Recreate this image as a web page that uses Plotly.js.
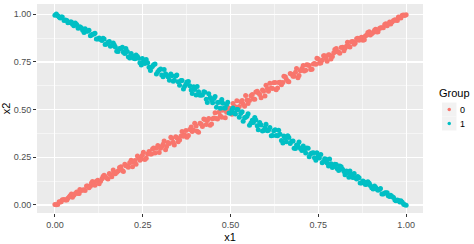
<!DOCTYPE html>
<html><head><meta charset="utf-8">
<script src="https://cdn.plot.ly/plotly-3.0.1.min.js"></script>
<style>html,body{margin:0;padding:0;background:#fff}#chart{width:474px;height:244px}</style>
</head><body><div id="chart"></div>
<script>
const groupNames = ["0", "1"];
const legendTitle = "Group";
const tickVals = [0, 0.25, 0.5, 0.75, 1];
const tickText = ["0.00", "0.25", "0.50", "0.75", "1.00"];

// sample A
const xsA = [0.000,0.008,0.015,0.021,0.030,0.037,0.044,0.050,0.058,0.066,0.071,0.079,0.086,0.093,0.101,0.107,0.114,0.122,0.130,0.137,0.143,0.151,0.158,0.166,0.172,0.180,0.188,0.195,0.202,0.209,0.217,0.224,0.231,0.238,0.246,0.252,0.260,0.268,0.275,0.281,0.289,0.297,0.304,0.311,0.318,0.326,0.333,0.340,0.347,0.355,0.362,0.369,0.376,0.384,0.391,0.398,0.405,0.413,0.420,0.427,0.434,0.442,0.449,0.456,0.463,0.471,0.478,0.485,0.492,0.500,0.507,0.514,0.521,0.529,0.536,0.543,0.550,0.558,0.565,0.572,0.579,0.587,0.594,0.601,0.608,0.616,0.623,0.630,0.637,0.645,0.652,0.659,0.666,0.674,0.681,0.688,0.695,0.703,0.710,0.717,0.724,0.732,0.739,0.746,0.753,0.761,0.768,0.775,0.782,0.790,0.797,0.804,0.811,0.819,0.826,0.833,0.840,0.848,0.855,0.862,0.869,0.877,0.884,0.891,0.898,0.906,0.913,0.920,0.927,0.935,0.942,0.949,0.956,0.964,0.971,0.978,0.985,0.993,1.000];

const x2Group0A = [0.002,0.002,0.016,0.028,0.026,0.036,0.050,0.040,0.060,0.060,0.081,0.079,0.076,0.099,0.098,0.123,0.104,0.130,0.125,0.150,0.149,0.136,0.160,0.184,0.164,0.178,0.201,0.176,0.206,0.198,0.235,0.224,0.214,0.248,0.241,0.277,0.245,0.281,0.267,0.299,0.297,0.275,0.307,0.336,0.307,0.323,0.350,0.314,0.353,0.341,0.385,0.369,0.355,0.396,0.385,0.428,0.387,0.428,0.411,0.448,0.443,0.418,0.452,0.484,0.451,0.468,0.497,0.457,0.498,0.485,0.532,0.514,0.499,0.541,0.530,0.574,0.532,0.573,0.556,0.593,0.588,0.563,0.597,0.628,0.596,0.613,0.641,0.604,0.643,0.631,0.675,0.659,0.646,0.685,0.675,0.716,0.679,0.716,0.702,0.735,0.732,0.712,0.742,0.769,0.743,0.759,0.782,0.754,0.787,0.779,0.815,0.804,0.796,0.827,0.822,0.853,0.828,0.858,0.849,0.874,0.874,0.864,0.886,0.905,0.892,0.905,0.921,0.908,0.930,0.929,0.951,0.949,0.949,0.968,0.969,0.986,0.980,0.996,0.998];

const x2Group1A = [0.995,0.993,0.981,0.986,0.970,0.956,0.960,0.948,0.954,0.927,0.935,0.917,0.924,0.911,0.887,0.895,0.901,0.871,0.868,0.874,0.841,0.853,0.832,0.850,0.828,0.805,0.821,0.801,0.820,0.778,0.795,0.769,0.786,0.769,0.734,0.750,0.763,0.722,0.722,0.735,0.687,0.708,0.682,0.711,0.682,0.654,0.678,0.654,0.682,0.628,0.653,0.622,0.645,0.625,0.585,0.605,0.622,0.575,0.577,0.591,0.538,0.564,0.536,0.569,0.537,0.507,0.534,0.509,0.539,0.481,0.509,0.477,0.501,0.480,0.439,0.460,0.478,0.430,0.432,0.446,0.394,0.419,0.391,0.423,0.392,0.363,0.389,0.364,0.392,0.338,0.362,0.332,0.354,0.334,0.297,0.315,0.330,0.286,0.287,0.299,0.253,0.273,0.248,0.274,0.247,0.222,0.242,0.220,0.241,0.196,0.214,0.190,0.204,0.187,0.158,0.169,0.178,0.144,0.143,0.149,0.115,0.126,0.108,0.122,0.102,0.084,0.093,0.077,0.086,0.058,0.064,0.048,0.051,0.039,0.022,0.023,0.022,0.004,-0.001];

// sample B
const xsB = [0.004,0.012,0.018,0.026,0.034,0.041,0.047,0.054,0.062,0.069,0.075,0.083,0.090,0.097,0.104,0.111,0.118,0.126,0.134,0.140,0.147,0.155,0.162,0.169,0.176,0.184,0.192,0.199,0.206,0.213,0.221,0.228,0.235,0.242,0.249,0.256,0.264,0.272,0.278,0.285,0.293,0.301,0.308,0.315,0.322,0.330,0.337,0.344,0.351,0.359,0.366,0.373,0.380,0.388,0.395,0.402,0.409,0.417,0.424,0.431,0.438,0.446,0.453,0.460,0.467,0.475,0.482,0.489,0.496,0.504,0.511,0.518,0.525,0.533,0.540,0.547,0.554,0.562,0.569,0.576,0.583,0.591,0.598,0.605,0.612,0.620,0.627,0.634,0.641,0.649,0.656,0.663,0.670,0.678,0.685,0.692,0.699,0.707,0.714,0.721,0.728,0.736,0.743,0.750,0.757,0.765,0.772,0.779,0.786,0.794,0.801,0.808,0.815,0.823,0.830,0.837,0.844,0.852,0.859,0.866,0.873,0.881,0.888,0.895,0.902,0.910,0.917,0.924,0.931,0.939,0.946,0.953,0.960,0.968,0.975,0.982,0.989,0.996];

const x2Group0B = [0.001,0.017,0.017,0.029,0.026,0.043,0.057,0.051,0.068,0.060,0.076,0.080,0.099,0.090,0.115,0.109,0.125,0.111,0.138,0.156,0.141,0.165,0.148,0.171,0.172,0.197,0.181,0.214,0.204,0.222,0.200,0.233,0.257,0.235,0.261,0.239,0.267,0.267,0.294,0.272,0.312,0.298,0.319,0.290,0.328,0.355,0.329,0.358,0.331,0.362,0.360,0.391,0.365,0.409,0.392,0.414,0.382,0.423,0.451,0.422,0.453,0.425,0.456,0.454,0.486,0.460,0.504,0.486,0.508,0.476,0.517,0.546,0.516,0.548,0.518,0.550,0.548,0.580,0.554,0.597,0.580,0.603,0.571,0.611,0.639,0.611,0.642,0.614,0.644,0.643,0.673,0.649,0.690,0.675,0.696,0.667,0.704,0.731,0.706,0.734,0.710,0.739,0.738,0.765,0.745,0.782,0.770,0.788,0.766,0.798,0.821,0.802,0.826,0.809,0.832,0.833,0.856,0.843,0.872,0.864,0.880,0.866,0.891,0.909,0.898,0.917,0.907,0.925,0.929,0.946,0.940,0.960,0.959,0.972,0.967,0.984,0.995,0.994];

const x2Group1B = [1.002,0.986,0.986,0.968,0.967,0.957,0.959,0.940,0.946,0.930,0.930,0.905,0.913,0.916,0.891,0.897,0.871,0.876,0.862,0.871,0.844,0.858,0.836,0.839,0.806,0.820,0.827,0.794,0.805,0.771,0.781,0.767,0.779,0.746,0.768,0.742,0.746,0.705,0.727,0.739,0.699,0.713,0.673,0.688,0.672,0.687,0.649,0.676,0.646,0.653,0.608,0.633,0.647,0.603,0.620,0.577,0.594,0.577,0.594,0.554,0.583,0.551,0.559,0.512,0.539,0.553,0.509,0.527,0.482,0.499,0.483,0.501,0.460,0.489,0.457,0.465,0.418,0.444,0.459,0.415,0.432,0.388,0.405,0.389,0.406,0.365,0.394,0.363,0.371,0.325,0.350,0.363,0.322,0.336,0.296,0.311,0.296,0.309,0.273,0.297,0.269,0.274,0.234,0.255,0.265,0.228,0.240,0.205,0.216,0.202,0.212,0.181,0.200,0.175,0.178,0.145,0.160,0.165,0.136,0.143,0.115,0.121,0.109,0.114,0.091,0.100,0.082,0.081,0.058,0.063,0.064,0.044,0.045,0.026,0.026,0.016,0.015,0.001];

const colors = ["#F8766D", "#00BFC4"];
const font = "Liberation Sans, Arial, sans-serif";

const series = [
  {x: xsA.concat(xsB), y: x2Group0A.concat(x2Group0B)},
  {x: xsA.concat(xsB), y: x2Group1A.concat(x2Group1B)}
];
const traces = series.map((s, i) => ({
  type: "scatter", mode: "markers", name: groupNames[i],
  x: s.x, y: s.y,
  marker: {color: colors[i], size: 5, line: {width: 0}},
  showlegend: false
}));

// plot area in pixels: x 37..423, y 4..213
const L = 37, R = 423, T = 4, B = 213;
const px = v => (v - L) / (R - L);
const py = v => (B - v) / (B - T);

const shapes = [];
const annotations = [{
  xref: "paper", yref: "paper", x: px(437), y: py(93), xanchor: "left", yanchor: "middle",
  text: legendTitle, showarrow: false, font: {family: font, size: 11, color: "#000"}
}];
groupNames.forEach((g, i) => {
  const cy = 109.5 + i * 14;
  shapes.push({type: "rect", xref: "paper", yref: "paper", x0: px(442), x1: px(456.5), y0: py(cy - 7), y1: py(cy + 7), fillcolor: "#F2F2F2", line: {width: 0}, layer: "below"});
  shapes.push({type: "circle", xref: "paper", yref: "paper", x0: px(447.5), x1: px(451), y0: py(cy + 1.75), y1: py(cy - 1.75), fillcolor: colors[i], line: {width: 0}});
  annotations.push({xref: "paper", yref: "paper", x: px(458), y: py(cy), xanchor: "left", yanchor: "middle",
    text: g, showarrow: false, font: {family: font, size: 9, color: "#000"}});
});

const axisCommon = {
  tickvals: tickVals, ticktext: tickText,
  showgrid: true, gridcolor: "#FFFFFF", gridwidth: 1.1,
  minor: {tickvals: [0.125, 0.375, 0.625, 0.875], showgrid: true, gridcolor: "#FFFFFF", gridwidth: 0.5, ticks: ""},
  zeroline: false, showline: false,
  ticks: "outside", ticklen: 3, tickwidth: 1, tickcolor: "#333333",
  tickfont: {family: font, size: 9, color: "#4D4D4D"},
  fixedrange: true
};

const layout = {
  width: 474, height: 244,
  margin: {l: L, r: 474 - R, t: T, b: 244 - B, autoexpand: false},
  paper_bgcolor: "#FFFFFF", plot_bgcolor: "#EBEBEB",
  font: {family: font},
  xaxis: Object.assign({}, axisCommon, {range: [-0.051, 1.048], title: {text: "x1", font: {family: font, size: 11, color: "#000"}, standoff: 4}}),
  yaxis: Object.assign({}, axisCommon, {range: [-0.042, 1.054], title: {text: "x2", font: {family: font, size: 11, color: "#000"}, standoff: 4}}),
  showlegend: false,
  shapes: shapes,
  annotations: annotations
};

Plotly.newPlot("chart", traces, layout, {staticPlot: true, displayModeBar: false});
</script>
</body></html>
